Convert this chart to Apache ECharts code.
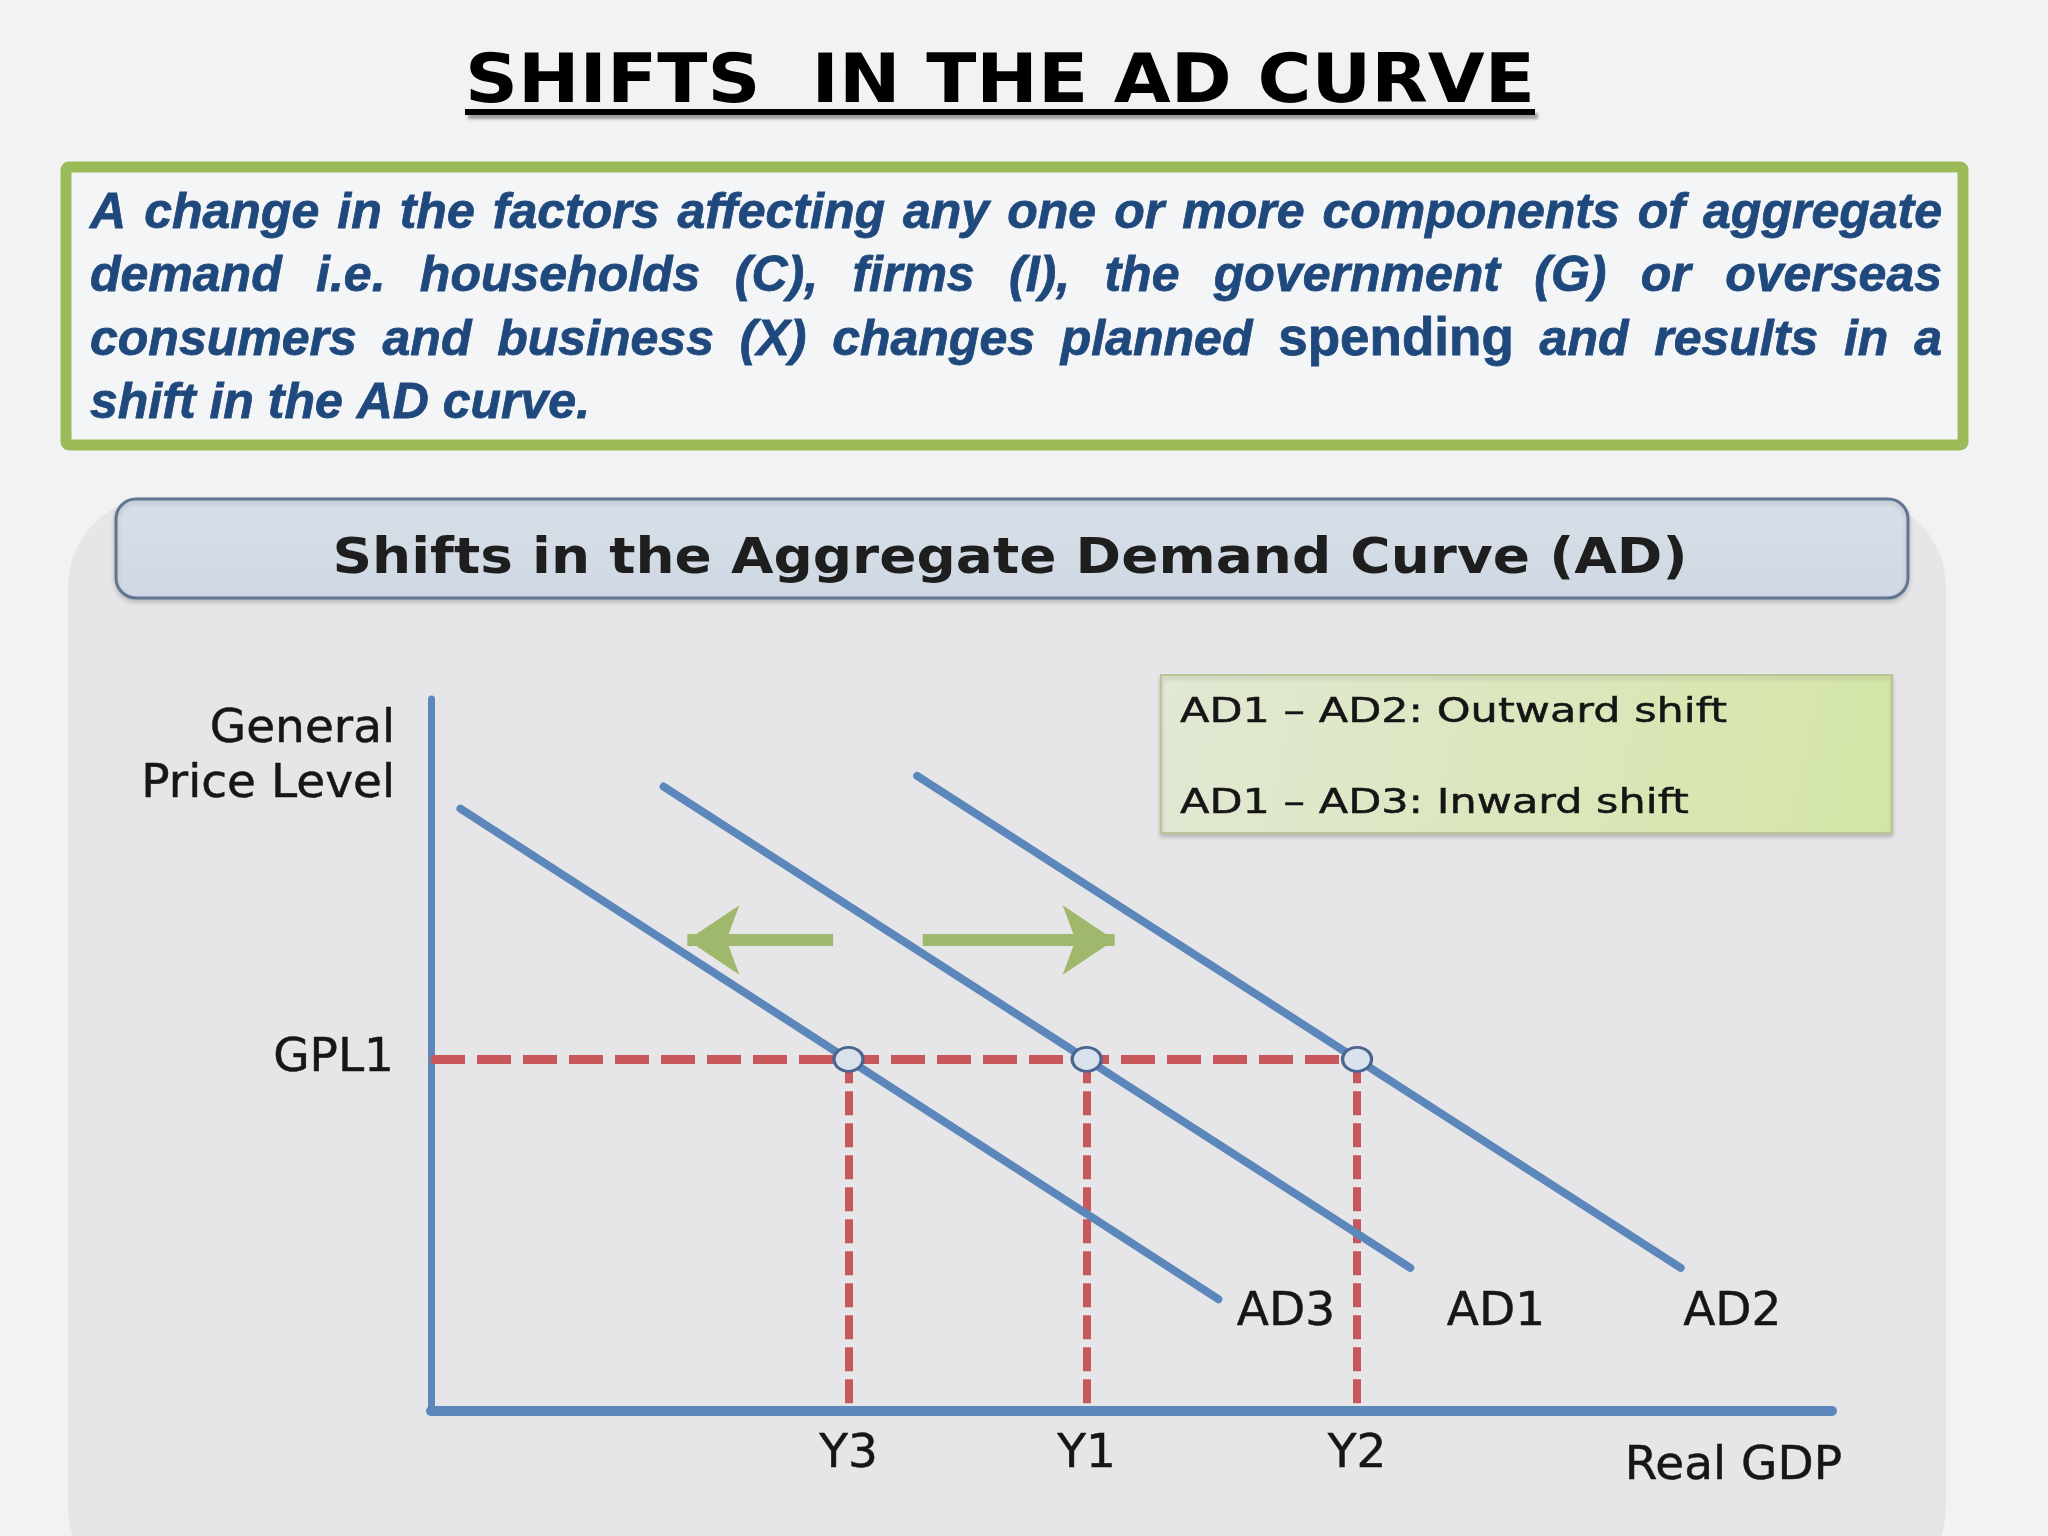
<!DOCTYPE html>
<html><head><meta charset="utf-8">
<script src="https://cdn.jsdelivr.net/npm/echarts@6/dist/echarts.min.js"></script>
<style>html,body{margin:0;padding:0;background:#f2f2f3}#c{width:2048px;height:1536px}</style>
</head><body><div id="c"></div>
<script>
// ---------- data ----------
const heading = 'SHIFTS  IN THE AD CURVE';
const paragraphLines = [
  'A change in the factors affecting any one or more components of aggregate',
  'demand i.e. households (C), firms (I), the government (G) or overseas',
  'consumers and business (X) changes planned spending and results in a',
  'shift in the AD curve.'
];
const emphasisWords = ['spending'];
const chartTitle = 'Shifts in the Aggregate Demand Curve (AD)';
const legendLines = ['AD1 \u2013 AD2: Outward shift', 'AD1 \u2013 AD3: Inward shift'];
const yAxisName = 'General\nPrice Level';
const xAxisName = 'Real GDP';

const curveNames = ['AD3', 'AD1', 'AD2'];
const ad3 = [[2.1, 84.6], [56.2, 15.7]];
const ad1 = [[16.6, 87.7], [69.9, 20.1]];
const ad2 = [[34.7, 89.2], [89.2, 20.1]];
const priceLevel = 49.4;
const priceLabel = 'GPL1';
const outputNames = ['Y3', 'Y1', 'Y2'];
const outputValues = [29.8, 46.8, 66.1];
const inwardArrow = [[28.7, 66.15], [18.3, 66.15]];
const outwardArrow = [[35.1, 66.15], [48.8, 66.15]];

// ---------- helpers ----------
const mctx = document.createElement('canvas').getContext('2d');
function measure(font, s) { mctx.font = font; mctx.textBaseline = 'alphabetic'; return mctx.measureText(s).width; }
function midOff(font) { mctx.font = font; mctx.textBaseline = 'middle'; const m = mctx.measureText('H'); mctx.textBaseline = 'alphabetic'; return m.actualBoundingBoxDescent; }
function textEl(x, baseline, text, font, fill, align, extra) {
  return Object.assign({
    type: 'text', x: x, y: baseline - midOff(font), z: -5,
    style: Object.assign({ text: text, font: font, fill: fill, align: align, textAlign: align, verticalAlign: 'middle', textVerticalAlign: 'middle' }, (extra && extra.style) || {})
  }, (extra && extra.el) || {});
}

const blue = '#5b87ba';
const red = '#c9585c';
const green = '#a0b86c';
const g = [];

// chart panel
g.push({ type: 'rect', z: -30, shape: { x: 68, y: 497, width: 1878, height: 1100, r: 90 }, style: { fill: '#e6e6e8' } });

// top heading
const headFont = 'bold 67px "DejaVu Sans"';
g.push(textEl(1000, 102, heading, headFont, '#000', 'center', {
  el: { scaleX: 1070 / measure(headFont, heading) },
  style: { shadowColor: 'rgba(0,0,0,0.35)', shadowOffsetX: 3, shadowOffsetY: 3, shadowBlur: 3 }
}));
g.push({ type: 'rect', z: -5, shape: { x: 465, y: 109, width: 1070, height: 6 }, style: { fill: '#000', shadowColor: 'rgba(0,0,0,0.35)', shadowOffsetX: 3, shadowOffsetY: 4, shadowBlur: 3 } });

// paragraph box
g.push({ type: 'rect', z: -20, shape: { x: 66, y: 167, width: 1897, height: 278, r: 3 }, style: { fill: '#f4f5f7', stroke: '#9bbb59', lineWidth: 11 } });
const paraFont = 'italic bold 50px "Liberation Sans"';
const emphFont = 'bold 53px "Liberation Sans"';
const paraBaselines = [228, 291, 355, 418];
const paraLeft = 90, paraRight = 1942;
paragraphLines.forEach(function (line, li) {
  const words = line.split(' ').filter(Boolean);
  const fonts = words.map(function (w) { return emphasisWords.indexOf(w) >= 0 ? emphFont : paraFont; });
  const widths = words.map(function (w, i) { return measure(fonts[i], w); });
  const total = widths.reduce(function (a, b) { return a + b; }, 0);
  const justify = li < paragraphLines.length - 1;
  const gap = justify ? (paraRight - paraLeft - total) / (words.length - 1) : measure(paraFont, ' ');
  let x = paraLeft;
  words.forEach(function (w, i) {
    g.push(textEl(x, paraBaselines[li], w, fonts[i], '#1f497d', 'left', {
      style: { shadowColor: 'rgba(30,30,30,0.5)', shadowOffsetX: 3, shadowOffsetY: 3, shadowBlur: 3, stroke: '#1f497d', lineWidth: 0.8 }
    }));
    x += widths[i] + gap;
  });
});

// chart title box
g.push({ type: 'rect', z: -10, shape: { x: 116, y: 499, width: 1792, height: 99, r: 20 },
  style: { fill: new echarts.graphic.LinearGradient(0, 0, 0, 1, [{ offset: 0, color: '#d8dfe8' }, { offset: 1, color: '#cfd8e3' }]),
    stroke: '#5f7592', lineWidth: 3, shadowColor: 'rgba(0,0,0,0.15)', shadowOffsetY: 3, shadowBlur: 5 } });
const ctFont = 'bold 50px "DejaVu Sans"';
g.push(textEl(1010, 573, chartTitle, ctFont, '#1e1e1e', 'center', { el: { scaleX: 1355 / measure(ctFont, chartTitle) } }));

// legend box
g.push({ type: 'rect', z: -10, shape: { x: 1161, y: 675, width: 731, height: 158 },
  style: { fill: new echarts.graphic.LinearGradient(0, 0, 1, 1, [{ offset: 0, color: '#e2e8d4' }, { offset: 1, color: '#d4e6a6' }]),
    stroke: '#b8c697', lineWidth: 2, shadowColor: 'rgba(0,0,0,0.18)', shadowOffsetY: 3, shadowBlur: 4 } });
const lgFont = '34px "DejaVu Sans"';
const lgScale = 547 / measure(lgFont, legendLines[0]);
g.push(textEl(1180, 722, legendLines[0], lgFont, '#151515', 'left', { el: { scaleX: lgScale }, style: { stroke: '#151515', lineWidth: 0.5 } }));
g.push(textEl(1180, 813, legendLines[1], lgFont, '#151515', 'left', { el: { scaleX: lgScale }, style: { stroke: '#151515', lineWidth: 0.5 } }));

// ---------- chart ----------
const labelFont = { fontFamily: 'DejaVu Sans', fontSize: 47, color: '#161616', textBorderColor: '#161616', textBorderWidth: 0.5 };
const curves = [ad3, ad1, ad2];
const labelOffsets = [[18, 14], [36, 45], [2, 45]];

const chart = echarts.init(document.getElementById('c'), null, { renderer: 'canvas' });
chart.setOption({
  animation: false,
  backgroundColor: '#f2f2f3',
  graphic: { elements: g },
  grid: { left: 431, top: 699, right: 216, bottom: 125 },
  xAxis: {
    type: 'value', min: 0, max: 100,
    name: xAxisName, nameLocation: 'end', nameGap: 10,
    nameTextStyle: Object.assign({}, labelFont, { align: 'right', verticalAlign: 'top', lineHeight: 112 }),
    axisLine: { show: true, onZero: false, lineStyle: { color: blue, width: 10 } },
    axisTick: { show: false }, splitLine: { show: false },
    axisLabel: Object.assign({}, labelFont, {
      customValues: outputValues, margin: 20,
      formatter: function (v) { return outputNames[outputValues.indexOf(v)] || ''; }
    })
  },
  yAxis: {
    type: 'value', min: 0, max: 100,
    name: yAxisName, nameLocation: 'end', nameGap: -58,
    nameTextStyle: Object.assign({}, labelFont, { lineHeight: 55, align: 'right', verticalAlign: 'middle', padding: [0, 36, 0, 0] }),
    axisLine: { show: true, onZero: false, lineStyle: { color: blue, width: 7 } },
    axisTick: { show: false }, splitLine: { show: false },
    axisLabel: Object.assign({}, labelFont, {
      customValues: [priceLevel], margin: 37,
      formatter: function () { return priceLabel; }
    })
  },
  series: [
    {
      type: 'lines', coordinateSystem: 'cartesian2d', z: 2, silent: true,
      lineStyle: { color: red, width: 9, type: [34, 12], opacity: 1 },
      data: [{ coords: [[0, priceLevel], [outputValues[2], priceLevel]] }]
    },
    {
      type: 'lines', coordinateSystem: 'cartesian2d', z: 2, silent: true,
      lineStyle: { color: red, width: 8, type: [24, 8], opacity: 1 },
      data: outputValues.map(function (v) { return { coords: [[v, priceLevel], [v, 0]] }; })
    }
  ].concat(curves.map(function (c, i) {
    return {
      type: 'line', name: curveNames[i], data: c, z: 3, symbol: 'none', silent: true,
      lineStyle: { color: blue, width: 8, cap: 'round' }
    };
  })).concat([
    {
      type: 'scatter', name: 'curve labels', symbolSize: 1, z: 2, silent: true,
      itemStyle: { color: blue, opacity: 1 },
      label: Object.assign({ show: true, position: 'right', distance: 0, formatter: '{b}', opacity: 1 }, labelFont),
      data: curveNames.map(function (n, i) {
        return { name: n, value: curves[i][1], label: { offset: labelOffsets[i] } };
      })
    },
    {
      type: 'lines', coordinateSystem: 'cartesian2d', z: 4, silent: true,
      symbol: ['none', 'arrow'], symbolSize: [42, 52],
      lineStyle: { color: green, width: 12, opacity: 1 },
      data: [{ coords: inwardArrow }, { coords: outwardArrow }]
    },
    {
      type: 'scatter', name: 'equilibria', z: 5, silent: true,
      symbol: 'circle', symbolSize: [29, 24],
      itemStyle: { color: '#d9e1ec', borderColor: '#4a6590', borderWidth: 3, opacity: 1 },
      data: outputValues.map(function (v) { return [v, priceLevel]; })
    }
  ])
});
</script></body></html>
